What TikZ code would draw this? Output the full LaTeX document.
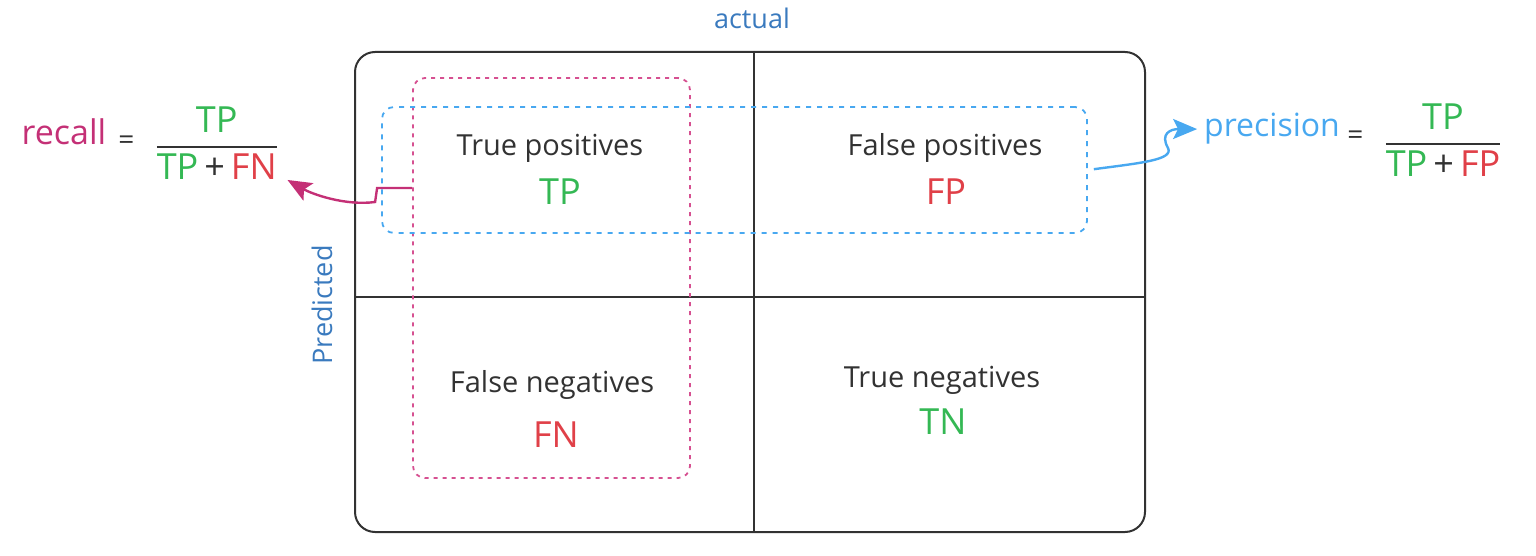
\documentclass[tikz,border=0pt]{standalone}
\usepackage{fontspec}
\setmainfont{Open Sans}
\usetikzlibrary{arrows.meta}

\definecolor{recallpink}{RGB}{196,48,118}
\definecolor{pinkline}{RGB}{214,80,145}
\definecolor{precblue}{RGB}{72,168,240}
\definecolor{axisblue}{RGB}{58,122,190}
\definecolor{posgreen}{RGB}{52,184,84}
\definecolor{negred}{RGB}{224,64,72}
\definecolor{inkgray}{RGB}{50,50,50}

\begin{document}
\begin{tikzpicture}[x=0.5pt,y=-0.5pt,>={Stealth[length=12pt,width=10pt,inset=2.5pt]},
    celltext/.style={font=\fontsize{14.5}{17}\selectfont,text=inkgray},
    abbr/.style={font=\fontsize{18}{20}\selectfont},
    frame/.style={draw=inkgray,line width=1pt,rounded corners=10pt,inner sep=0pt,
      minimum width=395pt,minimum height=240pt},
    recallzone/.style={draw=pinkline,line width=0.9pt,dash pattern=on 2pt off 2.5pt,
      rounded corners=6pt,inner sep=0pt,minimum width=138.5pt,minimum height=200pt},
    preczone/.style={draw=precblue,line width=0.9pt,dash pattern=on 2.5pt off 3pt,
      rounded corners=6pt,inner sep=0pt,minimum width=352.5pt,minimum height=63pt},
    formula/.style={font=\fontsize{18}{20}\selectfont,text=inkgray,inner sep=2pt}]
  \useasboundingbox (0,0) rectangle (1536,556);

  % confusion matrix
  \node[frame] (grid) at (750,292) {};
  \draw[inkgray,line width=1pt] ([xshift=2pt]grid.north) -- ([xshift=2pt]grid.south);
  \draw[inkgray,line width=1pt] ([yshift=-2.5pt]grid.west) -- ([yshift=-2.5pt]grid.east);
  \node[recallzone] (recallbox) at (551.5,278) {};
  \node[preczone]   (precbox)   at (734.5,170) {};

  \node[font=\fontsize{13.5}{15}\selectfont,text=axisblue] (actual) at (752,18) {actual};
  \node[font=\fontsize{13.5}{15}\selectfont,text=axisblue,rotate=90] (predicted) at (322,305) {Predicted};

  \node[celltext] (tptext) at (550,148) {True positives};
  \node[abbr,text=posgreen] (tp) at (560,192) {TP};
  \node[celltext] (fptext) at (945,148) {False positives};
  \node[abbr,text=negred] (fp) at (946,192) {FP};
  \node[celltext] (fntext) at (552,385) {False negatives};
  \node[abbr,text=negred] (fn) at (556,435) {FN};
  \node[celltext] (tntext) at (942,380) {True negatives};
  \node[abbr,text=posgreen] (tn) at (943,422) {TN};

  % formulas
  \node[anchor=base,font=\fontsize{17}{19}\selectfont,text=recallpink] (recall) at (64,145) {recall};
  \node[formula,anchor=west] (recfrm) at (114,143)
    {\raisebox{3pt}{\fontsize{14}{16}\selectfont=}\hspace{10pt}$\displaystyle{\mbox{\textcolor{posgreen}{TP}}\above 1pt
      \mbox{\textcolor{posgreen}{TP}\,+\,\textcolor{negred}{FN}}}$};
  \node[anchor=base,font=\fontsize{16}{18}\selectfont,text=precblue] (precision) at (1272,137) {precision};
  \node[formula,anchor=west] (precfrm) at (1343,140)
    {\raisebox{4pt}{\fontsize{14}{16}\selectfont=}\hspace{10pt}$\displaystyle{\mbox{\textcolor{posgreen}{TP}}\above 1pt
      \mbox{\textcolor{posgreen}{TP}\,+\,\textcolor{negred}{FP}}}$};

  % arrows
  \draw[->,recallpink,line width=1.2pt] ([yshift=45pt]recallbox.west) -- ++(-35,0) -- ++(-2,14)
    .. controls (345,206) and (312,194) .. ([xshift=2pt,yshift=2pt]recfrm.south east);
  \draw[->,precblue,line width=1.2pt,shorten <=3pt] (precbox.east)
    .. controls (1140,163) and (1174,160) .. (1168,148)
    .. controls (1160,134) and (1170,129) .. (precision.west);
\end{tikzpicture}
\end{document}
